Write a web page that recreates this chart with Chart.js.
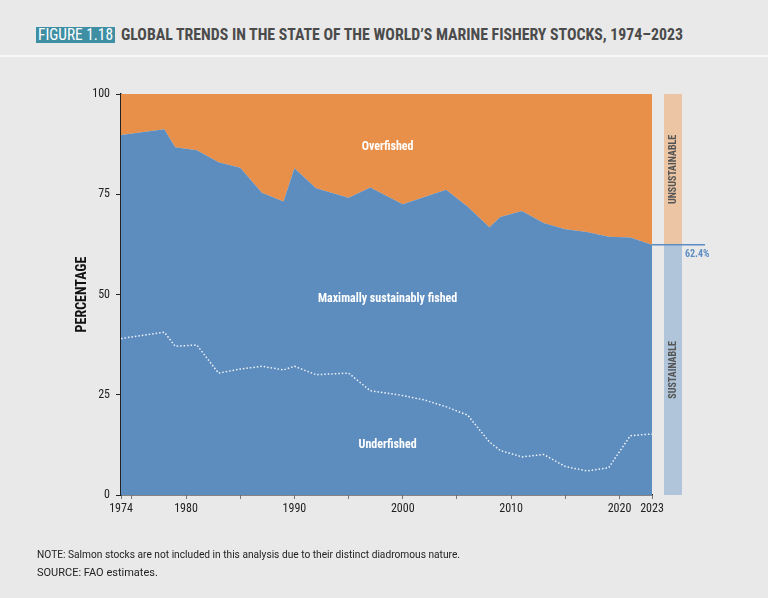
<!DOCTYPE html>
<html>
<head>
<meta charset="utf-8">
<script src="https://cdn.jsdelivr.net/npm/chart.js@4.4.1/dist/chart.umd.min.js"></script>
<style>
  html, body { margin:0; padding:0; }
  body { width:768px; height:598px; background:#e9e9e9; position:relative; overflow:hidden;
         font-family:'Roboto Condensed',sans-serif; }
  #fig { position:absolute; left:36px; top:27px; width:79px; height:16px; background:#3f8fa4; overflow:hidden; }
  #figt { position:absolute; left:2px; top:0; height:16px; line-height:16px; color:#fff; font-size:16px;
          white-space:nowrap; transform-origin:0 50%; }
  #ttl { position:absolute; left:121px; top:27px; height:16px; line-height:16px;
         color:#4b4b4b; font-size:16px; font-weight:bold; white-space:nowrap; transform-origin:0 50%; }
  #rule { position:absolute; left:0; top:55px; width:768px; height:2px; background:#f6f6f6; }
  #c { position:absolute; left:0; top:0; }
  .note { position:absolute; left:37px; font-family:Roboto,sans-serif; font-size:11px; color:#222;
          white-space:nowrap; transform-origin:0 50%; }
</style>
</head>
<body>
<div id="fig"><span id="figt">FIGURE 1.18</span></div>
<div id="ttl">GLOBAL TRENDS IN THE STATE OF THE WORLD’S MARINE FISHERY STOCKS, 1974–2023</div>
<div id="rule"></div>
<canvas id="c" width="768" height="598"></canvas>
<div class="note" id="n1" style="top:548px">NOTE: Salmon stocks are not included in this analysis due to their distinct diadromous nature.</div>
<div class="note" style="top:566px">SOURCE: FAO estimates.</div>
<script>
const years = [1974,1978,1979,1981,1983,1985,1987,1989,1990,1992,1995,1997,2000,2002,2004,2006,2008,2009,2011,2013,2015,2017,2019,2021,2023];
const sustainable = [89.8,91.2,86.7,86.0,83.0,81.6,75.4,73.2,81.5,76.5,74.1,76.7,72.5,74.3,76.1,71.9,66.8,69.3,70.8,67.8,66.3,65.6,64.4,64.2,62.4];
const underfished = [39.0,40.6,37.1,37.4,30.4,31.4,32.1,31.2,32.1,30.0,30.4,26.0,24.8,23.7,22.0,19.9,13.2,11.1,9.5,10.1,7.1,6.0,6.8,14.8,15.2];
const xTickYears = [1974,1975,1980,1985,1990,1995,2000,2005,2010,2015,2020,2023];
const xLabelYears = [1974,1980,1990,2000,2010,2020,2023];
const yTicks = [0,25,50,75,100];
const areaLabels = ['Overfished','Maximally sustainably fished','Underfished'];
const sideLabels = ['UNSUSTAINABLE','SUSTAINABLE'];
const latestSustainable = sustainable[sustainable.length-1];

function fitWidth(el, w){ const nw = el.getBoundingClientRect().width; if (nw > 0) el.style.transform = 'scaleX(' + (w/nw) + ')'; }
fitWidth(document.getElementById('ttl'), 562);
fitWidth(document.getElementById('figt'), 75);
fitWidth(document.getElementById('n1'), 423);

const COND = "'Roboto Condensed',sans-serif";
const BLUE = '#5d8cbe', ORANGE = '#e8904a';

const pts = arr => years.map((y,i)=>({x:y, y:arr[i]}));

const overlay = {
  id:'overlay',
  afterDatasetsDraw(chart){
    const {ctx, chartArea:a, scales:{x,y}} = chart;
    ctx.save();
    ctx.fillStyle = '#fff';
    ctx.font = 'bold 12px ' + COND;
    ctx.textAlign = 'center'; ctx.textBaseline = 'middle';
    const cx = x.getPixelForValue(1998.6);
    ctx.fillText(areaLabels[0], cx, y.getPixelForValue(86.9));
    ctx.fillText(areaLabels[1], cx, y.getPixelForValue(49.0));
    ctx.fillText(areaLabels[2], cx, y.getPixelForValue(12.5));
    const bx = a.right + 12, bw = 18;
    const yTop = y.getPixelForValue(100), ySplit = y.getPixelForValue(latestSustainable), yBot = y.getPixelForValue(0);
    ctx.fillStyle = '#ecc6a4';
    ctx.fillRect(bx, yTop, bw, ySplit - yTop);
    ctx.fillStyle = '#b1c5da';
    ctx.fillRect(bx, ySplit, bw, yBot - ySplit);
    ctx.strokeStyle = '#5b8dc3'; ctx.lineWidth = 1.5;
    ctx.beginPath(); ctx.moveTo(a.right, ySplit); ctx.lineTo(a.right + 53, ySplit); ctx.stroke();
    ctx.fillStyle = '#5b8dc3';
    ctx.font = 'bold 10px ' + COND;
    ctx.textAlign = 'left';
    ctx.fillText(latestSustainable.toFixed(1) + '%', a.right + 33, ySplit + 10);
    ctx.fillStyle = '#555';
    ctx.font = 'bold 10px ' + COND;
    ctx.textAlign = 'center';
    ctx.save(); ctx.translate(bx + bw/2, (yTop + ySplit)/2); ctx.rotate(-Math.PI/2);
    ctx.fillText(sideLabels[0], 0, 0); ctx.restore();
    ctx.save(); ctx.translate(bx + bw/2, (ySplit + yBot)/2); ctx.rotate(-Math.PI/2);
    ctx.fillText(sideLabels[1], 0, 0); ctx.restore();
    ctx.restore();
  }
};

new Chart(document.getElementById('c'), {
  type:'line',
  data:{
    datasets:[
      { label:'Underfished', data:pts(underfished), borderColor:'rgba(255,255,255,0.9)', borderWidth:1.5,
        borderDash:[1.5,2], fill:false, pointRadius:0, tension:0, order:0 },
      { label:'Sustainable', data:pts(sustainable), borderColor:'transparent', borderWidth:0,
        backgroundColor:BLUE, fill:'origin', pointRadius:0, tension:0, order:1 },
      { label:'Overfished', data:pts(sustainable), borderColor:'transparent', borderWidth:0,
        backgroundColor:ORANGE, fill:'end', pointRadius:0, tension:0, order:2 }
    ]
  },
  options:{
    responsive:false, animation:false, devicePixelRatio:1,
    layout:{ padding:{ top:94, right:116, left:70, bottom:80 } },
    plugins:{ legend:{display:false}, tooltip:{enabled:false} },
    scales:{
      x:{ type:'linear', min:1974, max:2023,
        afterBuildTicks(s){ s.ticks = xTickYears.map(v=>({value:v})); },
        afterFit(s){ s.height = 23; },
        ticks:{ autoSkip:false, maxRotation:0, padding:3, color:'#222',
          font:{ family:COND, size:12 },
          callback:v => xLabelYears.includes(v) ? String(v) : '' },
        grid:{ drawOnChartArea:false, drawTicks:true, tickLength:4, tickColor:'#777' },
        border:{ display:true, color:'#222', width:1.5 }
      },
      y:{ min:0, max:100,
        afterBuildTicks(s){ s.ticks = yTicks.map(v=>({value:v})); },
        afterFit(s){ s.width = 51; },
        ticks:{ padding:6, color:'#222', font:{ family:COND, size:12 } },
        grid:{ drawOnChartArea:false, drawTicks:true, tickLength:5, tickColor:'#222' },
        border:{ display:true, color:'#222', width:1.5 },
        title:{ display:true, text:'PERCENTAGE', color:'#111', font:{ family:COND, size:14, weight:'bold' } }
      }
    }
  },
  plugins:[overlay]
});
</script>
</body>
</html>
